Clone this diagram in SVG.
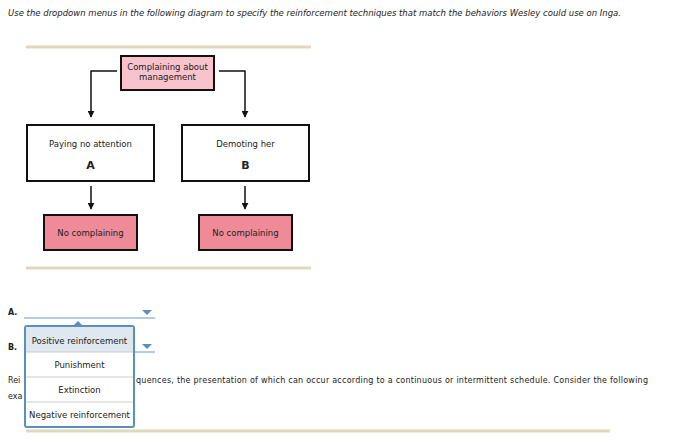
<svg xmlns="http://www.w3.org/2000/svg" width="700" height="447" viewBox="0 0 700 447">
<style>
text{font-family:Verdana,"DejaVu Sans",sans-serif;fill:#222}
.s{font-size:8.5px}
.b{stroke:#111;stroke-width:2}
.c{fill:none;stroke:#111;stroke-width:1.5}
.rule{stroke:#e0d8bc;stroke-width:3}
</style>
<defs><marker id="ar" viewBox="0 0 10 10" refX="9" refY="5" markerWidth="7" markerHeight="7" orient="auto" markerUnits="userSpaceOnUse"><path d="M0,0L10,5L0,10z" fill="#111"/></marker></defs>
<rect width="700" height="447" fill="#fff"/>
<text x="8" y="16" font-size="8.5" font-style="italic">Use the dropdown menus in the following diagram to specify the reinforcement techniques that match the behaviors Wesley could use on Inga.</text>
<line class="rule" x1="26" y1="47" x2="311" y2="47"/>
<line class="rule" x1="26" y1="268" x2="311" y2="268"/>
<g id="connectors">
<path class="c" d="M117,71H91V117" marker-end="url(#ar)"/>
<path class="c" d="M219,71H245V117" marker-end="url(#ar)"/>
<path class="c" d="M91,186V209" marker-end="url(#ar)"/>
<path class="c" d="M245,186V209" marker-end="url(#ar)"/>
</g>
<g id="top"><rect class="b" x="121" y="56" width="93" height="34" fill="#f9c3cd" stroke-width="1.5"/>
<text class="s" x="167.5" y="70" text-anchor="middle">Complaining about</text><text class="s" x="167.5" y="80" text-anchor="middle">management</text></g>
<g id="A"><rect class="b" x="27" y="125" width="127" height="56" fill="#fff"/>
<text class="s" x="90.5" y="147" text-anchor="middle">Paying no attention</text><text x="90.5" y="169" text-anchor="middle" font-size="11" font-weight="bold">A</text></g>
<g id="B"><rect class="b" x="182" y="125" width="127" height="56" fill="#fff"/>
<text class="s" x="245.5" y="147" text-anchor="middle">Demoting her</text><text x="245.5" y="169" text-anchor="middle" font-size="11" font-weight="bold">B</text></g>
<g id="nc1"><rect class="b" x="44" y="215" width="93" height="35" fill="#ef8a99" stroke-width="1.5"/><text class="s" x="90.5" y="236" text-anchor="middle">No complaining</text></g>
<g id="nc2"><rect class="b" x="199" y="215" width="93" height="35" fill="#ef8a99" stroke-width="1.5"/><text class="s" x="245.5" y="236" text-anchor="middle">No complaining</text></g>
<text x="8" y="315" font-size="8" font-weight="bold">A.</text>
<line x1="24" y1="318" x2="155" y2="318" stroke="#6a9cc8" stroke-width="1.2"/>
<path d="M142,310h10l-5,5z" fill="#5b8fc0"/>
<text x="8" y="350" font-size="8" font-weight="bold">B.</text>
<line x1="24" y1="352" x2="155" y2="352" stroke="#6a9cc8" stroke-width="1.2"/>
<path d="M142,344h10l-5,5z" fill="#5b8fc0"/>
<text x="8" y="383" font-size="8">Rei</text>
<text x="136" y="383" font-size="8" textLength="512" lengthAdjust="spacing">quences, the presentation of which can occur according to a continuous or intermittent schedule. Consider the following</text>
<text x="8" y="399" font-size="8">exa</text>
<line class="rule" x1="26" y1="431" x2="610" y2="431"/>
<g id="dropdown">
<path d="M73,326l5,-5l5,5z" fill="#5b8fc0"/>
<rect x="25" y="326" width="109" height="101" rx="2" fill="#fff" stroke="#5b8fc0" stroke-width="2"/>
<rect x="26" y="327" width="107" height="25" fill="#dfe7ef"/>
<line x1="26" y1="352" x2="133" y2="352" stroke="#ccc"/>
<line x1="26" y1="377" x2="133" y2="377" stroke="#ccc"/>
<line x1="26" y1="402" x2="133" y2="402" stroke="#ccc"/>
<text class="s" x="79.5" y="344" text-anchor="middle">Positive reinforcement</text>
<text class="s" x="79.5" y="368" text-anchor="middle">Punishment</text>
<text class="s" x="79.5" y="393" text-anchor="middle">Extinction</text>
<text class="s" x="79.5" y="418" text-anchor="middle">Negative reinforcement</text>
</g>
</svg>
